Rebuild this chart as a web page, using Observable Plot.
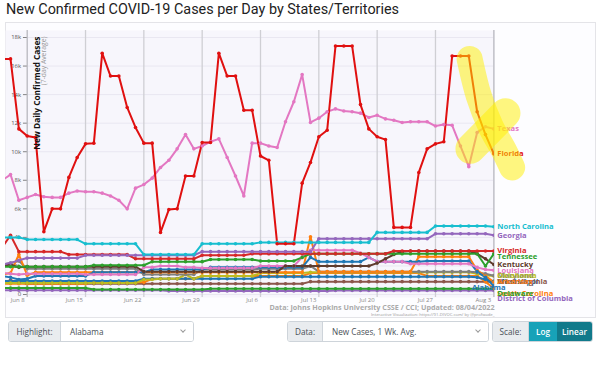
<!DOCTYPE html>
<html>
<head>
<meta charset="utf-8">
<script src="https://cdn.jsdelivr.net/npm/d3@7"></script>
<script src="https://cdn.jsdelivr.net/npm/@observablehq/plot@0.6"></script>
<style>
  html, body { margin: 0; padding: 0; background: #fff; }
  #wrap { position: relative; width: 600px; height: 384px; overflow: hidden; font-family: "Open Sans", sans-serif; }
  #title { position: absolute; left: 6px; top: 0px; font: 400 14.4px Roboto, sans-serif; color: #222; line-height: 20px; white-space: nowrap; }
  #card { position: absolute; left: 5px; top: 22px; width: 589px; height: 294px; border: 1px solid #e4e4e8; background: #fdfdff; }
  #chart { position: absolute; left: 0; top: 0; }
  .grp { position: absolute; top: 321px; height: 19px; display: flex; border: 1px solid #ced4da; border-radius: 3px; overflow: hidden; font: 400 8.2px "Open Sans", sans-serif; color: #495057; }
  .lab { background: #e9ecef; display: flex; align-items: center; justify-content: center; border-right: 1px solid #ced4da; }
  .sel { background: #fff; display: flex; align-items: center; padding-left: 9px; position: relative; flex: 1; }
  .sel::after { content: ""; position: absolute; right: 8px; top: 6px; width: 3px; height: 3px; border-right: 1px solid #999; border-bottom: 1px solid #999; transform: rotate(45deg); }
  .btn { display: flex; align-items: center; justify-content: center; color: #fff; font-weight: 600; }
</style>
</head>
<body>
<div id="wrap">
  <div id="title">New Confirmed COVID-19 Cases per Day by States/Territories</div>
  <div id="card"></div>
  <div id="chart"></div>
  <div class="grp" style="left:8px;width:184px;"><div class="lab" style="width:51px;">Highlight:</div><div class="sel" id="hlsel">Alabama</div></div>
  <div class="grp" style="left:287px;width:200px;"><div class="lab" style="width:34px;">Data:</div><div class="sel">New Cases, 1 Wk. Avg.</div></div>
  <div class="grp" style="left:492px;width:99px;border-color:#ced4da;"><div class="lab" style="width:35px;">Scale:</div><div class="btn" style="width:28px;background:#17a2b8;">Log</div><div class="btn" style="flex:1;background:#117a8b;">Linear</div></div>
</div>
<script>
// ---------- DATA (thousands of new cases per day, 7-day avg), Jun 5 .. Aug 3, 2022 ----------
const states = ["District of Columbia","Delaware","West Virginia","South Carolina","Mississippi","Oklahoma","Maryland","Arkansas","Alabama","Louisiana","Kentucky","Tennessee","Virginia","Georgia","North Carolina","Texas","Florida"];
const colors = ["#9467bd","#2ca02c","#8c564b","#ff7f0e","#1f77b4","#bcbd22","#7f7f7f","#ff7f0e","#1f77b4","#e377c2","#5e3b2c","#2ca02c","#d62728","#9467bd","#17becf","#e377c2","#e01010"];

const dcVals = [0.3,0.3,0.3,0.3,0.3,0.3,0.3,0.3,0.3,0.3,0.3,0.3,0.3,0.3,0.3,0.3,0.3,0.3,0.3,0.3,0.25,0.25,0.25,0.25,0.25,0.25,0.25,0.25,0.25,0.25,0.25,0.25,0.25,0.25,0.25,0.25,0.25,0.25,0.25,0.25,0.28,0.28,0.28,0.28,0.28,0.28,0.28,0.28,0.28,0.28,0.28,0.28,0.28,0.28,0.28,0.28,0.28,0.28,0.28,0.28];
const delawareVals = [0.45,0.45,0.45,0.45,0.45,0.45,0.45,0.45,0.45,0.45,0.45,0.35,0.35,0.35,0.35,0.35,0.35,0.35,0.35,0.35,0.35,0.35,0.35,0.35,0.35,0.4,0.4,0.4,0.4,0.4,0.4,0.4,0.4,0.4,0.4,0.4,0.4,0.4,0.4,0.4,0.4,0.4,0.4,0.4,0.4,0.4,0.4,0.4,0.4,0.4,0.4,0.4,0.4,0.4,0.4,0.4,0.4,0.4,0.4,0.4];
const westVirginiaVals = [0.8,1.0,0.85,0.75,0.75,0.75,0.75,0.75,0.75,0.75,0.75,0.75,0.75,0.75,0.75,0.75,0.75,0.75,0.75,0.75,0.75,0.75,0.75,0.75,0.75,0.75,0.75,0.75,0.75,0.75,0.75,0.75,0.75,0.75,0.75,0.75,0.75,0.9,0.9,0.9,0.9,0.9,0.9,0.9,0.9,0.9,0.9,0.9,0.9,0.9,0.9,0.9,0.9,0.9,0.9,0.9,0.9,0.9,0.9,0.9];
const southCarolinaVals = [0.75,0.75,0.75,0.75,0.75,0.75,0.75,0.75,0.75,0.75,0.75,0.85,0.85,0.85,0.85,0.85,0.85,0.85,1.1,1.1,1.1,1.1,1.1,1.1,1.3,1.3,1.3,1.3,1.3,1.3,1.3,1.3,1.3,1.3,1.3,1.3,1.3,1.5,1.5,1.5,1.5,1.5,1.5,1.5,1.5,1.5,1.5,1.5,1.5,1.5,1.5,1.3,1.3,1.3,1.3,1.3,1.3,1.3,0.9,0.42];
const mississippiVals = [0.95,0.95,0.95,0.95,0.95,0.95,0.95,0.95,0.95,0.95,0.95,0.95,0.95,0.95,0.95,0.95,0.95,1.1,1.1,1.1,1.1,1.1,1.1,1.1,1.1,1.1,1.1,1.1,1.1,1.1,1.1,1.25,1.25,1.25,1.25,1.25,1.25,1.25,1.25,1.25,1.25,1.25,1.25,1.25,1.25,1.25,1.25,1.25,1.25,1.25,1.25,1.25,1.25,1.25,1.25,1.25,1.25,1.2,1.05,0.92];
const oklahomaVals = [0.8,0.8,0.8,0.8,0.8,0.8,0.8,0.8,0.8,0.8,0.8,0.8,0.8,0.8,0.8,0.8,0.8,1.05,1.05,1.1,1.1,1.1,1.4,1.1,1.3,1.3,1.3,1.3,1.3,1.3,1.3,1.5,1.5,1.5,1.5,1.5,1.5,1.55,1.55,1.55,1.55,1.55,1.55,1.55,1.55,1.55,1.55,1.55,1.55,1.55,1.55,1.55,1.55,1.55,1.55,1.55,1.55,1.45,1.35,1.3];
const marylandVals = [2.1,2.2,2.35,1.8,1.8,1.8,1.8,1.8,1.8,1.8,1.8,1.8,1.8,1.8,1.8,1.8,1.8,1.4,1.4,1.4,1.4,1.4,1.4,1.4,1.75,1.75,1.75,1.75,1.75,1.75,1.75,1.8,1.8,1.8,1.8,1.8,1.8,2.0,1.6,1.6,1.6,1.6,1.6,1.6,1.6,1.6,1.6,1.6,1.6,1.6,1.6,1.6,1.6,1.6,1.6,1.6,1.6,1.55,1.45,1.32];
const arkansasVals = [1.4,1.5,2.8,1.35,1.55,1.55,1.55,1.55,1.55,1.55,1.55,1.55,1.55,1.55,1.55,1.55,1.55,1.55,1.55,1.55,1.55,1.55,1.55,1.55,1.55,1.55,1.55,1.55,1.55,1.55,1.55,1.55,1.55,1.55,1.55,1.55,1.55,4.05,1.6,1.6,1.6,1.6,1.6,1.6,1.6,1.6,1.6,1.6,1.6,1.6,2.65,2.65,2.65,2.65,2.65,2.65,2.65,1.7,1.3,0.88];
const alabamaVals = [1.3,1.2,1.05,1.1,1.3,1.3,1.3,1.3,1.3,1.3,1.3,1.55,1.55,1.55,1.55,1.55,1.55,1.55,1.75,1.75,1.75,1.75,1.75,1.75,1.75,1.9,1.9,1.9,1.9,1.9,1.9,1.9,1.9,1.9,1.9,1.9,1.9,2.6,2.3,2.3,2.3,2.3,2.3,2.3,2.6,2.3,2.3,2.3,2.3,2.3,2.3,2.35,2.35,2.35,2.35,2.35,2.35,1.6,1.2,0.6];
const louisianaVals = [1.5,1.45,1.4,1.45,1.45,1.45,1.45,1.45,1.45,1.45,1.4,1.4,1.4,1.4,1.4,1.4,1.4,1.9,1.9,2.0,2.0,2.0,1.9,1.9,1.85,1.85,1.85,1.85,1.85,1.85,1.85,2.0,2.0,2.0,2.0,2.0,2.6,3.1,3.1,3.1,3.1,3.1,3.1,2.9,2.6,2.3,2.3,2.3,2.3,2.15,2.15,2.15,2.15,2.15,2.15,2.15,2.15,1.9,1.75,1.7];
const kentuckyVals = [2.0,2.1,1.9,1.95,1.95,1.95,1.95,1.95,1.95,1.95,1.95,1.95,1.95,1.95,1.95,1.95,1.95,1.6,1.6,1.6,1.6,1.6,1.6,1.6,1.6,1.6,1.6,1.6,1.6,1.6,1.6,1.6,1.6,1.6,2.0,2.0,2.0,2.0,2.0,2.0,2.0,2.0,2.0,2.0,2.0,2.2,2.5,2.8,3.0,3.05,3.05,3.05,3.05,3.05,3.05,3.05,3.05,2.85,2.5,2.1];
const tennesseeVals = [1.95,1.95,1.95,1.95,1.95,1.95,1.95,1.95,1.95,1.95,1.95,2.05,2.05,2.05,2.05,2.05,2.05,2.05,2.3,2.3,2.3,2.3,2.3,2.3,2.3,2.45,2.45,2.45,2.45,2.45,2.45,2.35,2.35,2.35,2.35,2.35,2.6,2.85,2.85,2.85,2.85,2.85,2.85,2.85,2.85,2.85,2.85,2.85,2.85,2.85,2.85,2.85,2.85,2.85,2.85,2.85,2.85,2.85,2.0,2.85];
const virginiaVals = [3.3,4.15,3.0,3.0,3.0,3.0,3.0,3.0,2.8,2.8,2.8,2.8,2.8,2.8,2.8,2.8,2.5,2.5,2.5,2.5,2.5,2.5,2.5,2.5,2.75,2.75,2.75,2.75,2.75,2.75,2.85,2.85,2.85,2.85,2.85,2.85,2.85,2.85,2.85,2.85,2.85,2.85,2.85,2.85,2.85,2.85,2.85,3.05,3.05,3.05,3.05,3.05,3.05,3.05,3.05,3.05,3.05,3.05,3.05,3.05];
const georgiaVals = [2.1,2.2,2.4,2.55,2.55,2.55,2.55,2.55,2.55,2.55,2.75,2.75,2.75,2.75,2.75,2.75,2.75,2.75,2.75,2.75,2.75,2.75,2.75,2.75,3.0,3.0,3.0,3.0,3.0,3.0,3.0,3.0,3.0,3.0,3.0,3.0,3.0,3.0,3.9,3.9,3.9,3.9,3.9,3.9,3.9,3.9,3.9,3.9,3.9,3.9,3.9,3.9,4.25,4.25,4.25,4.25,4.25,4.25,4.25,4.15];
const northCarolinaVals = [4.0,4.0,4.0,3.85,3.85,3.85,3.85,3.85,3.85,3.85,3.55,3.55,3.55,3.55,3.55,3.55,3.55,2.8,2.8,2.8,2.8,2.8,2.8,2.8,3.55,3.55,3.55,3.55,3.55,3.55,3.55,3.65,3.65,3.65,3.65,3.65,3.65,3.65,3.65,3.65,3.65,3.65,3.65,3.65,3.65,4.35,4.35,4.35,4.35,4.35,4.35,4.35,4.8,4.8,4.8,4.8,4.8,4.8,4.8,4.75];
const texasVals = [8.0,8.4,6.6,6.8,7.0,6.85,6.8,6.8,7.1,7.25,7.2,7.2,7.1,6.9,6.6,6.0,7.45,7.7,8.15,8.9,9.4,10.2,11.2,10.2,10.4,10.7,10.9,9.6,8.3,6.9,10.6,10.6,10.4,10.3,12.1,13.5,15.4,12.05,12.35,12.8,13.0,12.85,12.8,12.7,12.4,12.55,12.3,12.2,12.05,12.1,12.1,12.1,11.8,11.9,11.85,10.4,8.95,11.35,11.75,11.6];
const floridaVals = [16.5,16.5,11.6,11.1,11.0,4.4,6.0,6.0,8.2,9.6,10.55,10.6,16.9,15.3,15.3,13.1,11.7,10.6,10.6,4.35,5.95,6.0,8.3,8.3,10.65,10.65,16.9,15.3,15.3,12.9,12.9,9.7,9.4,3.55,3.55,3.55,7.8,9.25,11.05,11.5,17.4,17.4,17.4,13.3,11.6,11.05,10.85,4.7,4.7,4.7,8.55,10.2,10.55,10.7,16.7,16.7,16.7,12.8,11.2,9.85];

const allVals = [dcVals,delawareVals,westVirginiaVals,southCarolinaVals,mississippiVals,oklahomaVals,marylandVals,arkansasVals,alabamaVals,louisianaVals,kentuckyVals,tennesseeVals,virginiaVals,georgiaVals,northCarolinaVals,texasVals,floridaVals];

const yTicks = [0,2,4,6,8,10,12,14,16,18];
const yTickLabels = ["0","2k","4k","6k","8k","10k","12k","14k","16k","18k"];
const xTickDates = ["2022-06-08","2022-06-15","2022-06-22","2022-06-29","2022-07-06","2022-07-13","2022-07-20","2022-07-27","2022-08-03"];
const xTickLabels = ["Jun 8","Jun 15","Jun 22","Jun 29","Jul 6","Jul 13","Jul 20","Jul 27","Aug 3"];
const highlightState = "Alabama";
// hand-drawn yellow highlighter strokes: [days after Jun 8, thousands]
const highlightFloridaStroke = [[53.1,16.5],[54.2,13.9],[55.6,11.8],[57.2,10.1],[58.2,8.9]];
const highlightTexasStroke = [[53.2,10.2],[57.4,12.7]];
const sourceText = "Data: Johns Hopkins University CSSE / CCI; Updated: 08/04/2022";
const creditText = "Interactive Visualization: https://91-DIVOC.com/ by @profwade_";
const yTitle = "New Daily Confirmed Cases";
const ySubtitle = "(7-day Average)";

// ---------- build ----------
const startDate = new Date(Date.UTC(2022,5,5));
const days = d3.utcDay.range(startDate, new Date(Date.UTC(2022,7,4)));
const jun8 = new Date(Date.UTC(2022,5,8));
const aug3 = new Date(Date.UTC(2022,7,3));
const dayOff = d => new Date(jun8.getTime() + d * 864e5);
const xTicks = xTickDates.map(s => new Date(s + "T00:00:00Z"));

const rows = [];
states.forEach((s, k) => allVals[k].forEach((v, i) => rows.push({state: s, color: colors[k], date: days[i], value: v})));

// end labels with simple downward collision avoidance
const gap = 0.4;
const ends = states.map((s, k) => ({state: s, color: colors[k], date: days[days.length - 1], value: allVals[k][allVals[k].length - 1]}))
  .sort((a, b) => b.value - a.value);
let prevRaw = null, prevSlot = null;
for (const e of ends) {
  if (prevRaw !== null && Math.abs(prevRaw - e.value) < 0.06) e.slot = prevSlot;
  else e.slot = prevSlot === null ? e.value : Math.min(e.value, prevSlot - gap);
  prevRaw = e.value; prevSlot = e.slot;
}
const normalLabels = ends.filter(e => e.state !== highlightState);
const hlLabels = ends.filter(e => e.state === highlightState);

const hl1 = highlightFloridaStroke.map(([d, v]) => ({date: dayOff(d), value: v}));
const hl2 = highlightTexasStroke.map(([d, v]) => ({date: dayOff(d), value: v}));

const chart = Plot.plot({
  width: 600, height: 318,
  marginLeft: 5, marginRight: 106, marginTop: 30, marginBottom: 21,
  x: {type: "utc", domain: [jun8, aug3], range: [26.7, 493.3], axis: null},
  y: {domain: [0, 18], range: [294, 37], axis: null},
  color: {type: "identity"},
  style: {background: "transparent", fontFamily: "'Open Sans', sans-serif", overflow: "visible"},
  marks: [
    Plot.frame({fill: "#f7f6fc", stroke: null}),
    Plot.ruleY(yTicks, {y: d => d, x1: () => jun8, x2: () => aug3, stroke: "#e9e7f1", strokeWidth: 1}),
    Plot.ruleX(xTicks, {x: d => d, stroke: d => d.getTime() === jun8.getTime() ? "#b8b8be" : "#cfcfd4", strokeWidth: 1.3}),
    Plot.ruleX([aug3], {x: d => d, stroke: "#c4c4ca", strokeWidth: 1.3}),
    Plot.ruleY(yTicks, {y: d => d, x1: () => dayOff(-0.45), x2: () => jun8, stroke: "#666", strokeWidth: 0.8}),
    Plot.text(yTicks, {y: d => d, x: () => jun8, text: (d, i) => yTickLabels[i], dx: -6, textAnchor: "end", fontSize: 6, fill: "#555"}),
    Plot.text(xTicks, {x: d => d, text: (d, i) => xTickLabels[i], frameAnchor: "bottom", dy: 4, dx: -2.5, textAnchor: "end", fontSize: 6, fill: "#888"}),
    Plot.line(rows, {x: "date", y: "value", z: "state", stroke: "color", strokeWidth: 2, clip: true}),
    Plot.dot(rows, {x: "date", y: "value", fill: "color", r: 1.8, clip: true}),
    Plot.text([yTitle], {frameAnchor: "top-left", dx: 28.5, dy: 6, rotate: -90, textAnchor: "end", fontSize: 8.3, fontWeight: 700, fill: "#111"}),
    Plot.text([ySubtitle], {frameAnchor: "top-left", dx: 35.5, dy: 6, rotate: -90, textAnchor: "end", fontSize: 6.8, fill: "#999"}),
    Plot.text(normalLabels, {x: "date", y: "slot", text: "state", fill: "color", dx: 3.5, textAnchor: "start", fontSize: 7.6, fontWeight: 700}),
    Plot.text(hlLabels, {x: "date", y: "slot", text: "state", fill: "color", dx: -5, textAnchor: "middle", fontSize: 7.6, fontWeight: 700}),
    Plot.text([sourceText], {frameAnchor: "bottom-right", dy: 12, textAnchor: "end", fontSize: 7.2, fontWeight: 700, fill: "#aaa"}),
    Plot.text([creditText], {frameAnchor: "bottom-right", dy: 18, textAnchor: "end", fontSize: 4.2, fill: "#999"}),
    Plot.line(hl1, {x: "date", y: "value", stroke: "#fff000", strokeOpacity: 0.5, strokeWidth: 26, strokeLinecap: "round", curve: "catmull-rom"}),
    Plot.line(hl2, {x: "date", y: "value", stroke: "#fff000", strokeOpacity: 0.5, strokeWidth: 30, strokeLinecap: "round"})
  ]
});
document.getElementById("chart").appendChild(chart);
</script>
</body>
</html>
